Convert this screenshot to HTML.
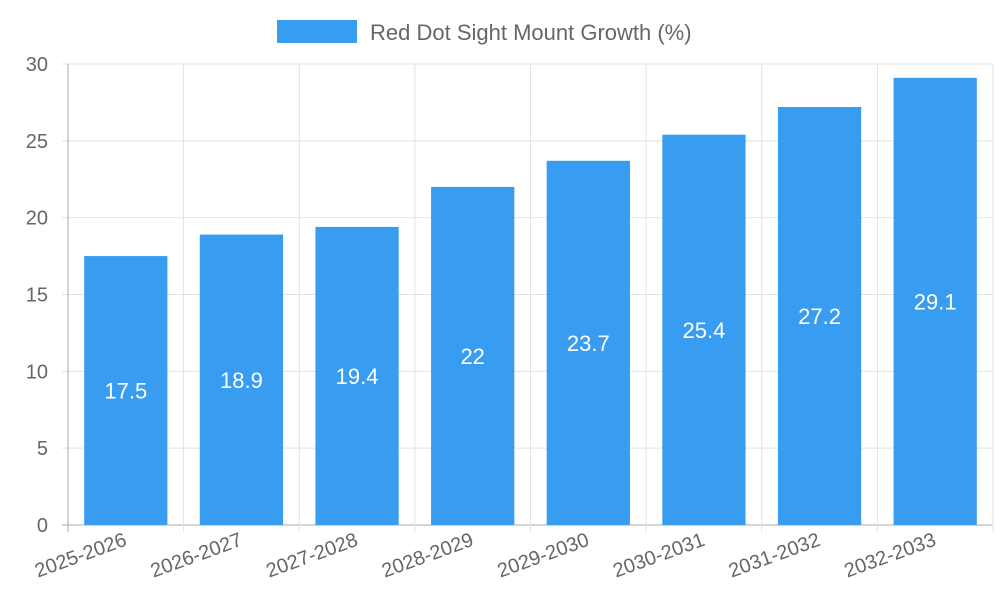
<!DOCTYPE html>
<html><head><meta charset="utf-8"><style>
html,body{margin:0;padding:0;background:#fff;}
svg{display:block;font-family:"Liberation Sans",Arial,sans-serif;}
</style></head><body>
<svg id="chart" width="1000" height="600">
<g>
<rect x="277" y="20" width="80" height="23" fill="#389cf0"/>
<text x="370" y="40" font-size="22" fill="#666">Red Dot Sight Mount Growth (%)</text>
</g>
<g id="grid"></g>
<g id="bars"></g>
<g id="labels"></g>
</svg>
<script>
const categories=["2025-2026","2026-2027","2027-2028","2028-2029","2029-2030","2030-2031","2031-2032","2032-2033"];
const values=[17.5,18.9,19.4,22,23.7,25.4,27.2,29.1];
const yTicks=[0,5,10,15,20,25,30];
const NS="http://www.w3.org/2000/svg";
const L=68,R=993,T=64,B=525,yMax=30;
const bw=(R-L)/categories.length;
const y=v=>B-(v/yMax)*(B-T);
const x=i=>L+i*bw;
function mk(tag,attrs,parent,txt){const e=document.createElementNS(NS,tag);for(const k in attrs)e.setAttribute(k,attrs[k]);if(txt!==undefined)e.textContent=txt;parent.appendChild(e);return e;}
const grid=document.getElementById('grid'),bars=document.getElementById('bars'),labels=document.getElementById('labels');
yTicks.forEach(t=>{
  const l=mk('line',{x1:L-6,x2:R,y1:y(t),y2:y(t),stroke:t===0?'#aaa':'#e2e2e2','stroke-width':1},grid);
  
  
  const tx=mk('text',{x:48,y:y(t)+7,'text-anchor':'end','font-size':20,fill:'#666'},grid,String(t));
  
  
});
for(let i=0;i<=categories.length;i++){
  const l=mk('line',{x1:x(i),x2:x(i),y1:T,y2:B+7,stroke:i===0?'#aaa':'#e2e2e2','stroke-width':1},grid);
  
  
}
categories.forEach((c,i)=>{
  const cx=x(i)+bw/2,w=bw*0.72;
  const r=mk('rect',{x:cx-w/2,y:y(values[i]),width:w,height:B-y(values[i]),fill:'#389cf0'},bars);
  
  
  const v=mk('text',{x:cx,y:(y(values[i])+B)/2+8,'text-anchor':'middle','font-size':22,fill:'#fff'},labels,String(values[i]));
  
  
  const t=mk('text',{x:cx+2,y:545,'text-anchor':'end','font-size':20,fill:'#666',transform:`rotate(-20 ${cx+2} 545)`},labels,c);
  
  
});
</script>
</body></html>
